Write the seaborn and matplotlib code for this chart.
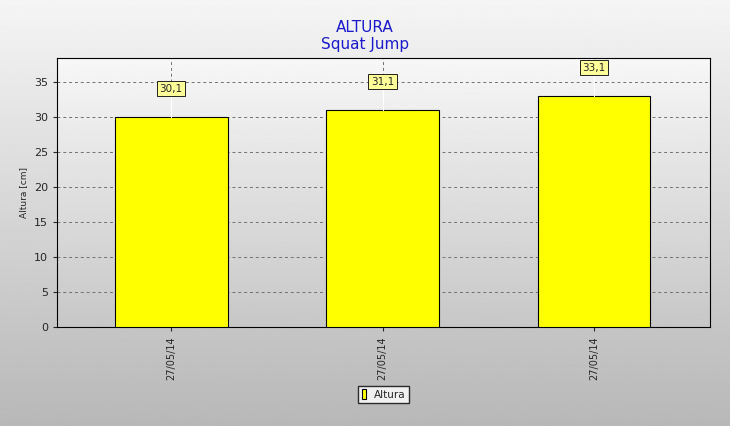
import numpy as np
import pandas as pd
import matplotlib
matplotlib.use('Agg')
import matplotlib.pyplot as plt
import seaborn as sns

dates = ['27/05/14', '27/05/14', '27/05/14']
alturas = [30.1, 31.1, 33.1]
labels = ['30,1', '31,1', '33,1']

sns.set_style('white')
plt.rcParams['font.family'] = ['DejaVu Sans']

fig = plt.figure(figsize=(7.3, 4.26), dpi=100)

# background gradient
bg = fig.add_axes([0, 0, 1, 1], zorder=-10)
grad = np.linspace(0.96, 0.72, 256).reshape(-1, 1)
bg.imshow(grad, aspect='auto', cmap='gray', vmin=0, vmax=1, extent=[0, 1, 0, 1])
bg.set_axis_off()

ax = fig.add_axes([0.078, 0.232, 0.895, 0.632])
ax.imshow(np.linspace(0.97, 0.78, 256).reshape(-1, 1), aspect='auto', cmap='gray',
          vmin=0, vmax=1, extent=[-0.54, 2.55, 0, 38.5], zorder=0)

df = pd.DataFrame({'idx': range(len(alturas)), 'Altura': alturas})
sns.barplot(data=df, x='idx', y='Altura', color='#ffff00', edgecolor='black',
            linewidth=0.8, width=0.534, saturation=1, ax=ax, zorder=3, label='Altura')

ax.set_xlim(-0.54, 2.55)
ax.set_ylim(0, 38.5)
ax.set_yticks(range(0, 36, 5))
ax.set_xticks(range(len(dates)))
ax.set_xticklabels(dates, rotation=90, fontsize=7)
ax.tick_params(axis='y', labelsize=8, length=3, left=True)
ax.tick_params(axis='x', length=3, bottom=True)
ax.set_xlabel('')
ax.set_ylabel('Altura [cm]', fontsize=6.5)
ax.grid(True, linestyle=(0, (3, 3)), color='#707070', linewidth=0.7, zorder=1)
ax.set_axisbelow(True)
for s in ax.spines.values():
    s.set_color('black')
    s.set_linewidth(0.8)

for i, (v, lab) in enumerate(zip(alturas, labels)):
    ax.plot([i, i], [v, v + 4], color='white', lw=0.8, zorder=4)
    ax.text(i, v + 4, lab, ha='center', va='center', fontsize=7.5, zorder=5,
            bbox=dict(boxstyle='square,pad=0.25', facecolor='#ffff99', edgecolor='black', lw=0.6))

fig.text(0.5, 0.935, 'ALTURA', ha='center', va='center', color='#1a1acc', fontsize=11)
fig.text(0.5, 0.895, 'Squat Jump', ha='center', va='center', color='#1a1acc', fontsize=11)

leg = ax.legend(loc='upper center', bbox_to_anchor=(0.5, -0.2), frameon=True,
                fontsize=7.5, handlelength=0.4, handleheight=1.0, fancybox=False,
                borderpad=0.3, edgecolor='black')
leg.get_frame().set_facecolor('white')

fig.savefig('out.png', dpi=100)
